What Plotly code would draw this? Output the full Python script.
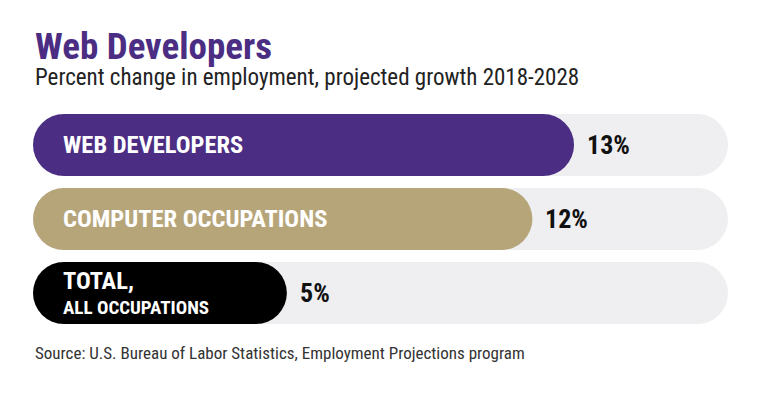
import plotly.graph_objects as go

# ---- data ----
categories = ["WEB DEVELOPERS", "COMPUTER OCCUPATIONS",
              "<span style='font-size:24.5px'>TOTAL,</span><br>ALL OCCUPATIONS"]
values = [13, 12, 5]                      # percent change 2018-2028
value_labels = ["13%", "12%", "5%"]
drawn_length = [13, 12, 6.1]              # bar length as drawn (label pill is widened for the last bar)
track_max = 16.7                          # length of the grey background track
colors = ["#4b2e83", "#b7a57a", "#000000"]
label_sizes = [24.5, 24.5, 19]

FONT = "Roboto Condensed, Roboto, sans-serif"
fig = go.Figure()

rows = list(range(len(categories)))

# grey tracks (base set explicitly -> both ends rounded)
fig.add_trace(go.Bar(
    y=rows, x=[track_max] * len(rows), base=[0] * len(rows), orientation="h",
    marker=dict(color="#efeef0", cornerradius="50%", line=dict(width=0)),
    hoverinfo="skip", showlegend=False))

# value bars
fig.add_trace(go.Bar(
    y=rows, x=drawn_length, base=[0] * len(rows), orientation="h",
    marker=dict(color=colors, cornerradius="50%", line=dict(width=0)),
    customdata=values, hovertemplate="%{customdata}%<extra></extra>",
    showlegend=False))

# labels inside bars and values to the right
for i, (cat, lab, L, fs) in enumerate(zip(categories, value_labels, drawn_length, label_sizes)):
    fig.add_annotation(x=0, y=i, xref="x", yref="y", text=f"<b>{cat}</b>",
                       xanchor="left", yanchor="middle", xshift=28, showarrow=False,
                       align="left", font=dict(family=FONT, size=fs, color="white"))
    fig.add_annotation(x=L, y=i, xref="x", yref="y", text=f"<b>{lab}</b>",
                       xanchor="left", yanchor="middle", xshift=11, showarrow=False,
                       font=dict(family=FONT, size=26, color="#111111"))

# titles and source
fig.add_annotation(x=25/768, y=0.903, xref="paper", yref="paper", xanchor="left", yanchor="middle",
                   text="<b>Web Developers</b>", showarrow=False,
                   font=dict(family=FONT, size=37, color="#4b2e83"))
fig.add_annotation(x=25/768, y=0.825, xref="paper", yref="paper", xanchor="left", yanchor="middle",
                   text="Percent change in employment, projected growth 2018-2028", showarrow=False,
                   font=dict(family=FONT, size=23, color="#222222"))
fig.add_annotation(x=25/768, y=0.135, xref="paper", yref="paper", xanchor="left", yanchor="middle",
                   text="Source: U.S. Bureau of Labor Statistics, Employment Projections program",
                   showarrow=False, font=dict(family=FONT, size=17, color="#333333"))

fig.update_layout(
    width=768, height=399, margin=dict(l=0, r=0, t=0, b=0),
    paper_bgcolor="white", plot_bgcolor="white",
    barmode="overlay", bargap=0.162,
    xaxis=dict(range=[0, track_max], domain=[25/768, 720/768], visible=False, fixedrange=True),
    yaxis=dict(range=[2.5, -0.5], domain=[0.193, 0.7494], visible=False, fixedrange=True),
)

fig.write_html("out.html")
